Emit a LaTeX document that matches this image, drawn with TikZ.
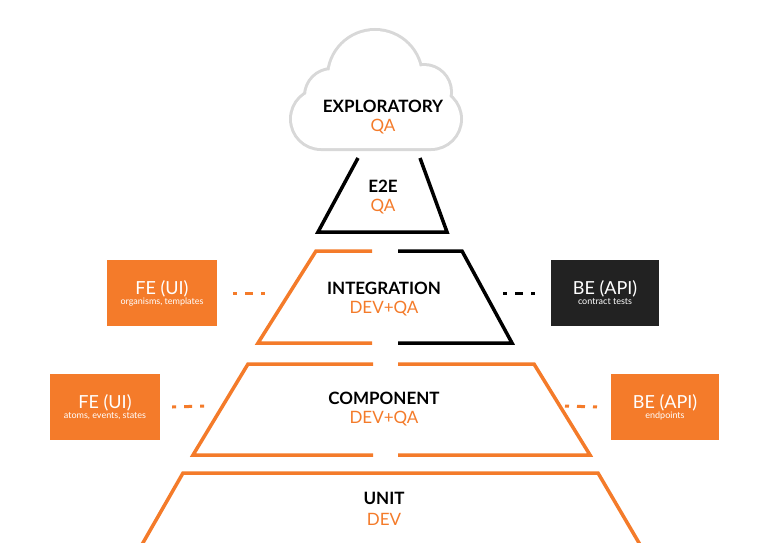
\documentclass[tikz,border=0pt]{standalone}
\usepackage{fontspec}
\setmainfont{Lato}
\definecolor{org}{HTML}{F47B2A}
\definecolor{dk}{HTML}{222222}
\definecolor{cl}{HTML}{D8D8D8}
\begin{document}
\begin{tikzpicture}[x=1pt,y=-1pt,
  ol/.style={draw=org,line width=3.5pt},
  bl/.style={draw=black,line width=3.5pt},
  cg/.style={fill=cl,draw=cl,line width=6pt},
  ttl/.style={font=\fontsize{17}{19}\selectfont\bfseries,text=black},
  sub/.style={font=\fontsize{17}{19}\selectfont,text=org},
  box/.style={fill=#1,minimum width=110pt,minimum height=66pt,text=white,align=center,inner sep=0pt},
  dsh/.style={line width=3pt,dash pattern=on 4pt off 8pt on 8pt off 8pt on 4pt}]
\fill[white] (0,0) rectangle (768,543);
\useasboundingbox (0,0) rectangle (768,543);
% cloud
\path[cg,rounded corners=29pt] (292,90) rectangle (460,148);
\path[cg] (375,77) circle (46);
\path[cg] (332,96) circle (26);
\path[cg] (424,92) circle (26);
\fill[white,rounded corners=29pt] (292,90) rectangle (460,148);
\fill[white] (375,77) circle (46);
\fill[white] (332,96) circle (26);
\fill[white] (424,92) circle (26);
\node[ttl] (exp) at (383,106) {EXPLORATORY};
\node[sub] (expq) at (383,127) {QA};
% E2E
\draw[bl,line join=miter] (358,158) -- (318,232) -- (447,232) -- (420,158);
\node[ttl] (e2e) at (383,186) {E2E};
\node[sub] (e2eq) at (383,207) {QA};
% integration
\draw[ol] (372,251) -- (316,251) -- (258,343) -- (372,343);
\draw[bl] (398,251) -- (462,251) -- (512,343) -- (398,343);
\node[ttl] (int) at (384,288) {INTEGRATION};
\node[sub] (intq) at (384,309) {DEV+QA};
% component
\draw[ol] (373,364) -- (248,364) -- (193,455) -- (373,455);
\draw[ol] (398,364) -- (534,364) -- (590,455) -- (398,455);
\node[ttl] (comp) at (384,398) {COMPONENT};
\node[sub] (compq) at (384,419) {DEV+QA};
% unit
\draw[ol] (140,548) -- (183,473) -- (598,473) -- (642,548);
\node[ttl] (unit) at (384,498) {UNIT};
\node[sub] (unitq) at (384,519) {DEV};
% boxes
\node[box=org] (fe1) at (162,293) {{\fontsize{18}{20}\selectfont FE (UI)}\\[-2pt]{\fontsize{9}{10}\selectfont organisms, templates}};
\node[box=dk,minimum width=108pt] (be1) at (605,293) {{\fontsize{18}{20}\selectfont BE (API)}\\[-2pt]{\fontsize{9}{10}\selectfont contract tests}};
\node[box=org] (fe2) at (105,407) {{\fontsize{18}{20}\selectfont FE (UI)}\\[-2pt]{\fontsize{9}{10}\selectfont atoms, events, states}};
\node[box=org,minimum width=108pt] (be2) at (665,407) {{\fontsize{18}{20}\selectfont BE (API)}\\[-2pt]{\fontsize{9}{10}\selectfont endpoints}};
\coordinate (d1) at (265,293); \coordinate (d2) at (503,293);
\coordinate (d3) at (205,406); \coordinate (d4) at (565,406);
\draw[dsh,org] ([xshift=16pt]fe1.east) -- (d1);
\draw[dsh,black] (d2) -- ([xshift=-14pt]be1.west);
\draw[dsh,org] ([xshift=12pt]fe2.east) -- (d3);
\draw[dsh,org] (d4) -- ([xshift=-13pt]be2.west);
\end{tikzpicture}
\end{document}
